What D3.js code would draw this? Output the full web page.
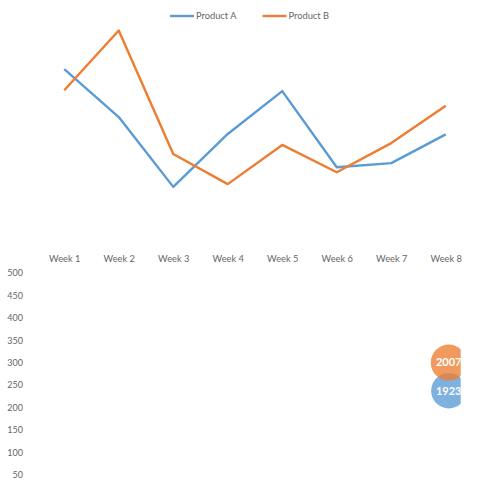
<!DOCTYPE html>
<html><head><meta charset="utf-8">
<script src="https://cdnjs.cloudflare.com/ajax/libs/d3/7.8.5/d3.min.js"></script>
<style>
html,body{margin:0;padding:0;background:#fff;overflow:hidden;}
text{font-family:"Lato","Open Sans",sans-serif;}
</style></head>
<body><svg id="c" width="484" height="480"></svg>
<script>
const weeks = ["Week 1","Week 2","Week 3","Week 4","Week 5","Week 6","Week 7","Week 8"];
const seriesNames = ["Product A","Product B"];
const productA = [380,275,122,238,332,165,174,237];
const productB = [334,465,194,128,214,154,218,300];
const colors = ["#5B9BD5","#ED7D31"];
const yTicks = [50,100,150,200,250,300,350,400,450,500];

const series = [productA, productB];
const totals = series.map(s => d3.sum(s));

const svg = d3.select("#c");

// ---- Top line chart ----
const x = d3.scalePoint().domain(weeks).range([37,473]).padding(0.5);
const y = d3.scaleLinear().domain([0,500]).range([242.5,14.5]);

const xAxis = svg.append("g").attr("transform","translate(0,249)")
  .call(d3.axisBottom(x).tickSize(0).tickPadding(6));
xAxis.select(".domain").remove();
xAxis.selectAll("text").attr("fill","#666").style("font-size","9.3px")
  .style("font-family","Lato, 'Open Sans', sans-serif");

const line = d3.line().x((d,i)=>x(weeks[i])).y(d=>y(d));
series.forEach((s,k)=>{
  svg.append("path").datum(s).attr("d",line)
    .attr("fill","none").attr("stroke",colors[k]).attr("stroke-width",2.4)
    .attr("stroke-linejoin","round");
});

// legend
const legendX = d3.scaleOrdinal().domain(seriesNames).range([170,262.5]);
seriesNames.forEach((n,k)=>{
  const g = svg.append("g").attr("transform",`translate(${legendX(n)},16)`);
  g.append("line").attr("x1",0).attr("x2",24).attr("stroke",colors[k]).attr("stroke-width",2.4);
  g.append("text").attr("x",26).attr("dy","0.35em").attr("fill","#666")
    .style("font-size","9.3px").text(n);
});

// ---- Bottom bubble chart ----
const y2 = d3.scaleLinear().domain([0,500]).range([497,273]);
const x2 = d3.scalePoint().domain(weeks).range([40,476]).padding(0.5);
const r = d3.scaleSqrt().domain([0,2007]).range([0,18]);

const yAxis = svg.append("g").attr("transform","translate(29,0)")
  .call(d3.axisLeft(y2).tickValues(yTicks).tickSize(0).tickPadding(6));
yAxis.select(".domain").remove();
yAxis.selectAll("text").attr("fill","#666").style("font-size","9px")
  .style("font-family","Lato, 'Open Sans', sans-serif");

svg.append("clipPath").attr("id","clip").append("rect")
  .attr("x",30).attr("y",260).attr("width",430.7).attr("height",240);

const bub = svg.append("g").attr("clip-path","url(#clip)");
series.forEach((s,k)=>{
  const last = s[s.length-1];
  const cx = x2(weeks[weeks.length-1]), cy = y2(last);
  bub.append("circle").attr("cx",cx).attr("cy",cy).attr("r",r(totals[k]))
    .attr("fill",colors[k]).attr("fill-opacity",0.78);
});
series.forEach((s,k)=>{
  const last = s[s.length-1];
  bub.append("text").attr("x",x2(weeks[weeks.length-1])).attr("y",y2(last))
    .attr("dy","0.35em").attr("text-anchor","middle").attr("fill","#fff")
    .style("font-size","11px").style("font-weight","bold").text(totals[k]);
});
</script></body></html>
